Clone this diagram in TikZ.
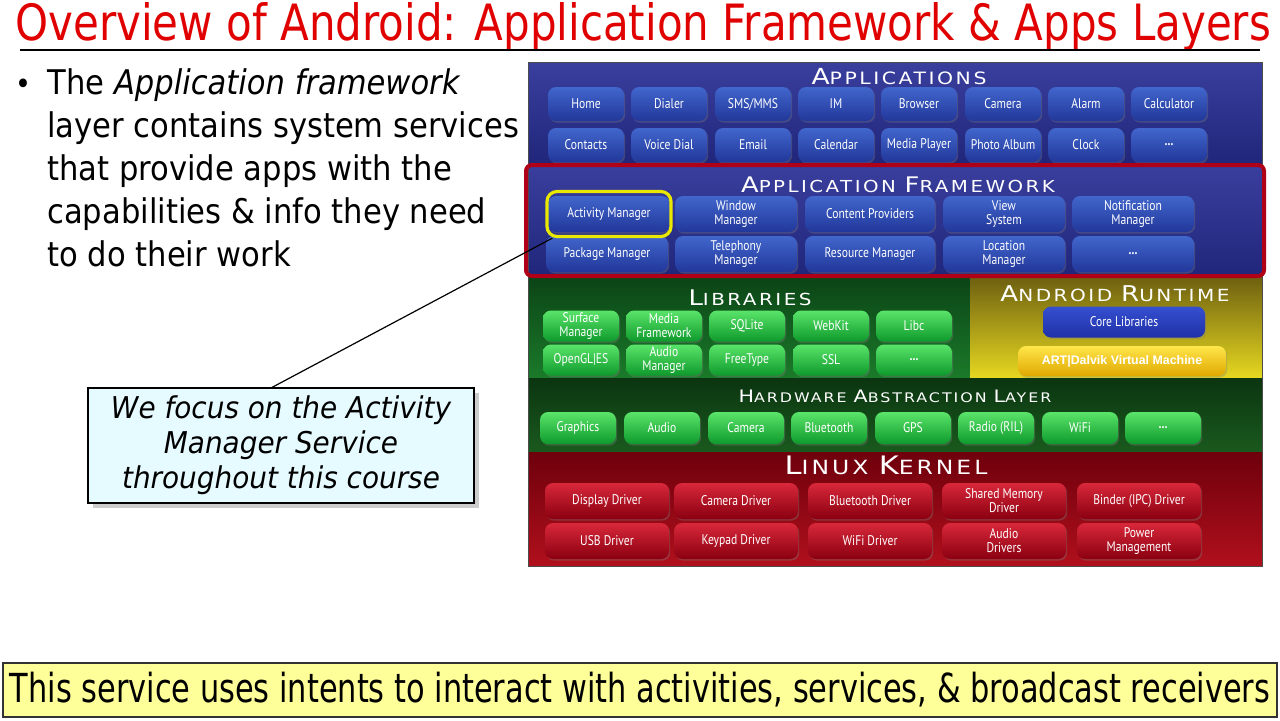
\documentclass[tikz,border=0pt]{standalone}
\usepackage{fontspec}
\usepackage{graphicx}
\setmainfont{DejaVu Sans}[FakeStretch=0.9]
\newfontfamily\titlefont{DejaVu Sans}[FakeStretch=0.84]
\newfontfamily\notefont{DejaVu Sans}[FakeStretch=0.93]
\newfontfamily\btnfont{PT Sans}[FakeStretch=0.83]
\newfontfamily\layfont{DejaVu Sans}[FakeStretch=1.2,LetterSpace=15]
\newfontfamily\artfont{Liberation Sans}
\newfontfamily\bannerfont{DejaVu Sans}[FakeStretch=0.76]
\usetikzlibrary{shadows}
\usetikzlibrary{positioning}

\definecolor{titlered}{HTML}{E00000}
\definecolor{appsT}{HTML}{3A3F9E}
\definecolor{appsB}{HTML}{20267A}
\definecolor{btnblueT}{HTML}{4166CC}
\definecolor{btnblueB}{HTML}{22379A}
\definecolor{libT}{HTML}{0B4416}
\definecolor{libB}{HTML}{1B7A2A}
\definecolor{rtT}{HTML}{6E6010}
\definecolor{rtB}{HTML}{E6D820}
\definecolor{halT}{HTML}{0B3510}
\definecolor{halB}{HTML}{1A5A1E}
\definecolor{krnT}{HTML}{6E000C}
\definecolor{krnB}{HTML}{B0101C}
\definecolor{grnT}{HTML}{5AE46A}
\definecolor{grnB}{HTML}{0E9A2C}
\definecolor{redT}{HTML}{D8283A}
\definecolor{redB}{HTML}{8A0010}
\definecolor{coreT}{HTML}{3550D0}
\definecolor{coreB}{HTML}{2030A8}
\definecolor{artT}{HTML}{FFE64A}
\definecolor{artB}{HTML}{E0A800}
\definecolor{framered}{HTML}{B00018}
\definecolor{hiliteyel}{HTML}{E8E800}
\definecolor{notebg}{HTML}{E6FBFF}
\definecolor{bannerbg}{HTML}{FFFF99}

\newcommand{\capsword}[2]{\scalebox{1.3}{#1}#2}

\tikzset{
  btn/.style={rounded corners=4pt, inner sep=0pt, align=center, text=white,
    font=\btnfont\fontsize{7}{7}\selectfont,
    drop shadow={opacity=0.35, shadow xshift=0.6pt, shadow yshift=-0.8pt}},
  bluebtn/.style={btn, top color=btnblueT, bottom color=btnblueB},
  greenbtn/.style={btn, top color=grnT, bottom color=grnB},
  redbtn/.style={btn, top color=redT, bottom color=redB},
  appbtn/.style={bluebtn, minimum width=38pt, minimum height=17pt},
  fwbtn/.style={bluebtn, minimum width=61pt, minimum height=18pt},
  libbtn/.style={greenbtn, minimum width=38pt, minimum height=15.5pt},
  halbtn/.style={greenbtn, minimum width=38pt, minimum height=16pt},
  krnbtn/.style={redbtn, minimum width=62pt, minimum height=18pt},
  ltitle/.style={text=white, inner sep=0pt, font=\layfont\fontsize{#1}{#1}\selectfont},
  hilite/.style={draw=hiliteyel, line width=1.6pt, rounded corners=5pt, inner sep=0pt},
  note/.style={draw=black, line width=0.6pt, fill=notebg, align=center, inner sep=0pt,
    font=\notefont\itshape\fontsize{15}{17.5}\selectfont,
    drop shadow={opacity=0.4, shadow xshift=2.5pt, shadow yshift=-2.5pt}},
  banner/.style={draw=black!80, line width=0.6pt, fill=bannerbg, inner sep=0pt,
    font=\bannerfont\fontsize{20}{22}\selectfont}
}

\begin{document}
\begin{tikzpicture}[x=0.5pt,y=-0.5pt]
\useasboundingbox[fill=white] (0,0) rectangle (1280,720);

\node[anchor=base west, text=titlered, inner sep=0pt, font=\titlefont\fontsize{25}{28}\selectfont] (title) at (15,40) {Overview of Android: Application Framework \& Apps Layers};
\draw[line width=0.6pt] (20,50) -- (1260,50);

\node[anchor=base west, inner sep=0pt, font=\fontsize{15}{21.5}\selectfont] (bullet) at (15,94) {\textbullet};
\node[anchor=north west, inner sep=0pt, align=left, font=\fontsize{17}{21.5}\selectfont] (body) at (47,68) {The \textit{Application framework}\\layer contains system services\\that provide apps with the\\capabilities \& info they need\\to do their work};

\fill[top color=appsT, bottom color=appsB] (528,62) rectangle (1262,164);
\fill[top color=appsT, bottom color=appsB] (528,164) rectangle (1262,277);
\fill[top color=libT, bottom color=libB] (528,277) rectangle (970,378);
\fill[top color=rtT, bottom color=rtB] (970,277) rectangle (1262,378);
\fill[top color=halT, bottom color=halB] (528,378) rectangle (1262,452);
\fill[top color=krnT, bottom color=krnB] (528,452) rectangle (1262,566);
\draw[black!70, line width=0.5pt] (528,62) rectangle (1262,566);

\node[ltitle=8.5] (appstitle) at (899,77) {\capsword{A}{PPLICATIONS}};
\node[appbtn] (home) at (586,104) {Home};
\node[appbtn] (dialer) at (669,104) {Dialer};
\node[appbtn] (sms) at (753,104) {SMS/MMS};
\node[appbtn] (im) at (836,104) {IM};
\node[appbtn] (browser) at (919,104) {Browser};
\node[appbtn] (appcamera) at (1003,104) {Camera};
\node[appbtn] (alarm) at (1086,104) {Alarm};
\node[appbtn] (calc) at (1169,104) {Calculator};
\node[appbtn] (contacts) at (586,145) {Contacts};
\node[appbtn] (voicedial) at (669,145) {Voice Dial};
\node[appbtn] (email) at (753,145) {Email};
\node[appbtn] (calendar) at (836,145) {Calendar};
\node[appbtn] (mediaplayer) at (919,145) {Media Player};
\node[appbtn] (photoalbum) at (1003,145) {Photo Album};
\node[appbtn] (clock) at (1086,145) {Clock};
\node[appbtn] (appmore) at (1169,145) {\textbf{...}};

\draw[framered, line width=2pt, rounded corners=3pt] (526,165) rectangle (1264,276);
\node[ltitle=8.25] (fwtitle) at (898,185) {\capsword{A}{PPLICATION} \capsword{F}{RAMEWORK}};
\node[fwbtn] (actmgr) at (609,214) {Activity Manager};
\node[fwbtn] (winmgr) at (736,214) {Window\\Manager};
\node[fwbtn, minimum width=65pt] (contprov) at (870,214) {Content Providers};
\node[fwbtn] (viewsys) at (1004,214) {View\\System};
\node[fwbtn] (notifmgr) at (1133,214) {Notification\\Manager};
\node[fwbtn] (pkgmgr) at (607,254) {Package Manager};
\node[fwbtn] (telmgr) at (736,254) {Telephony\\Manager};
\node[fwbtn, minimum width=65pt] (resmgr) at (870,254) {Resource Manager};
\node[fwbtn] (locmgr) at (1004,254) {Location\\Manager};
\node[fwbtn] (fwmore) at (1133,254) {\textbf{...}};
\node[hilite, minimum width=62pt, minimum height=22.5pt] (focus) at (609,214) {};

\node[ltitle=8.3] (libtitle) at (750,298) {\capsword{L}{IBRARIES}};
\node[libbtn] (surface) at (581,326) {Surface\\Manager};
\node[libbtn] (mediafw) at (664,326) {Media\\Framework};
\node[libbtn] (sqlite) at (747,326) {SQLite};
\node[libbtn] (webkit) at (831,326) {WebKit};
\node[libbtn] (libc) at (914,326) {Libc};
\node[libbtn] (opengl) at (581,360) {OpenGL|ES};
\node[libbtn] (audiomgr) at (664,360) {Audio\\Manager};
\node[libbtn] (freetype) at (747,360) {FreeType};
\node[libbtn] (ssl) at (831,360) {SSL};
\node[libbtn] (libmore) at (914,360) {\textbf{...}};

\node[ltitle=8.35] (rttitle) at (1115,294) {\capsword{A}{NDROID} \capsword{R}{UNTIME}};
\node[btn, top color=coreT, bottom color=coreB, minimum width=81pt, minimum height=15.5pt] (corelib) at (1124,322) {Core Libraries};
\node[btn, top color=artT, bottom color=artB, minimum width=104pt, minimum height=15pt, font=\artfont\bfseries\fontsize{6.2}{7}\selectfont] (art) at (1122,361) {ART|Dalvik Virtual Machine};

\node[ltitle=6.6] (haltitle) at (895,396) {\capsword{H}{ARDWARE} \capsword{A}{BSTRACTION} \capsword{L}{AYER}};
\node[halbtn] (graphics) at (578,428) {Graphics};
\node[halbtn] (halaudio) at (662,428) {Audio};
\node[halbtn] (halcamera) at (746,428) {Camera};
\node[halbtn] (bluetooth) at (829,428) {Bluetooth};
\node[halbtn] (gps) at (913,428) {GPS};
\node[halbtn] (radio) at (996,428) {Radio (RIL)};
\node[halbtn] (wifi) at (1080,428) {WiFi};
\node[halbtn] (halmore) at (1163,428) {\textbf{...}};

\node[ltitle=9.8] (krntitle) at (886,465) {\capsword{L}{INUX} \capsword{K}{ERNEL}};
\node[krnbtn] (display) at (607,501) {Display Driver};
\node[krnbtn] (camdrv) at (736,501) {Camera Driver};
\node[krnbtn] (btdrv) at (870,501) {Bluetooth Driver};
\node[krnbtn] (shmem) at (1004,501) {Shared Memory\\Driver};
\node[krnbtn] (binder) at (1139,501) {Binder (IPC) Driver};
\node[krnbtn] (usb) at (607,541) {USB Driver};
\node[krnbtn] (keypad) at (736,541) {Keypad Driver};
\node[krnbtn] (wifidrv) at (870,541) {WiFi Driver};
\node[krnbtn] (audiodrv) at (1004,541) {Audio\\Drivers};
\node[krnbtn] (power) at (1139,541) {Power\\Management};

\node[note, minimum width=193pt, minimum height=57.5pt] (note) at (281,445.5) {We focus on the Activity\\Manager Service\\throughout this course};
\draw[line width=0.6pt] ([xshift=-4.5pt]note.north) -- ([xshift=3.5pt]focus.south west);

\node[banner, minimum width=637pt, minimum height=27pt] (bannerbox) at (640,690) {This service uses intents to interact with activities, services, \& broadcast receivers};
\end{tikzpicture}
\end{document}
